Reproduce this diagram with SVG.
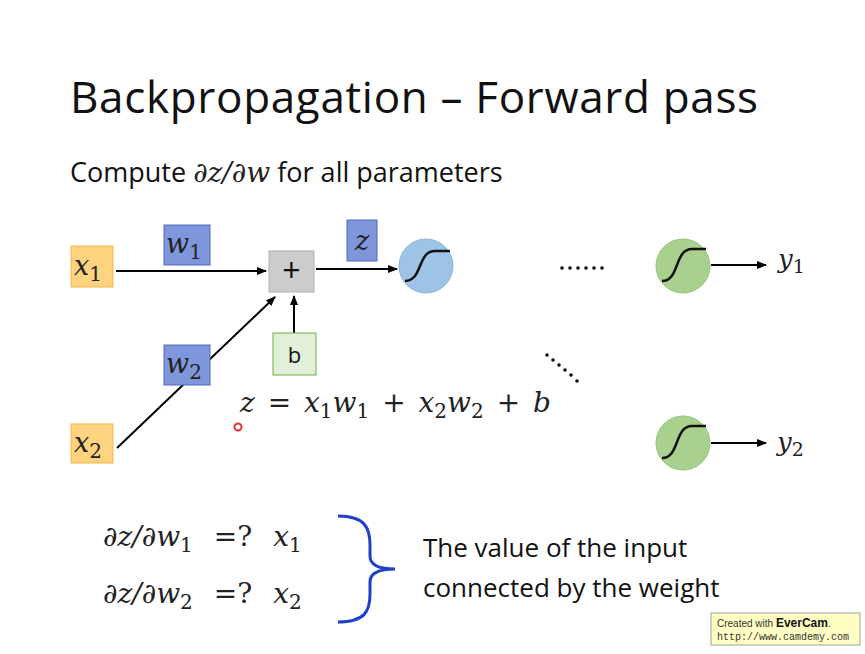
<svg xmlns="http://www.w3.org/2000/svg" width="865" height="654" viewBox="0 0 865 654">
<defs>
<marker id="ah" markerWidth="10" markerHeight="8" refX="9" refY="4" orient="auto" markerUnits="userSpaceOnUse"><path d="M0,0 L10,4 L0,8 Z" fill="#000"/></marker>
<style>
.s{font-family:"Open Sans","Liberation Sans",sans-serif;fill:#111}
.m{font-family:"DejaVu Serif","Liberation Serif",serif;font-style:italic;fill:#222}
.n{font-style:normal}
.c{stroke:#000;stroke-width:2;fill:none}
.sig{stroke:#111;stroke-width:2.5;fill:none}
</style>
</defs>
<rect width="865" height="654" fill="#fff"/>
<text class="s" x="70" y="113" font-size="44" textLength="688">Backpropagation – Forward pass</text>
<text class="s" x="70" y="182" font-size="27">Compute <tspan class="m" font-size="28">∂z/∂w</tspan> for all parameters</text>
<g id="connectors">
<line class="c" x1="116" y1="271" x2="266" y2="271" marker-end="url(#ah)"/>
<line class="c" x1="316" y1="269" x2="397" y2="269" marker-end="url(#ah)"/>
<line class="c" x1="294" y1="333" x2="294" y2="296" marker-end="url(#ah)"/>
<line class="c" x1="117" y1="448" x2="275" y2="297" marker-end="url(#ah)"/>
<line class="c" x1="711" y1="265" x2="766" y2="265" marker-end="url(#ah)"/>
<line class="c" x1="711" y1="443" x2="766" y2="443" marker-end="url(#ah)"/>
</g>
<g id="x1"><rect x="71" y="246" width="42" height="41" fill="#FFD37F" stroke="#F2B64A"/><text class="m" x="74" y="275" font-size="27">x<tspan class="n" font-size="20" dy="6">1</tspan></text></g>
<g id="w1"><rect x="164" y="225" width="46" height="40" fill="#7F96DA" stroke="#4F6BC0"/><text class="m" x="166" y="253" font-size="27">w<tspan class="n" font-size="20" dy="6">1</tspan></text></g>
<g id="plus"><rect x="269" y="251" width="45" height="41" fill="#CCCCCC" stroke="#B0B0B0"/><text class="s" x="291.5" y="282" font-size="32" text-anchor="middle">+</text></g>
<g id="z"><rect x="347" y="220" width="30" height="41" fill="#7F96DA" stroke="#4F6BC0"/><text class="m" x="362" y="250" font-size="27" text-anchor="middle">z</text></g>
<g id="sig1"><circle cx="426" cy="266" r="27" fill="#9DC3E6" stroke="#8AB3DA"/><path class="sig" d="M405,281 C423,281 417,251 435,251 L450,251"/></g>
<g id="b"><rect x="273" y="333" width="43" height="42" fill="#E2F0D9" stroke="#70AD47"/><text class="s" x="294.5" y="363" font-size="22" text-anchor="middle">b</text></g>
<g id="x2"><rect x="71" y="424" width="42" height="39" fill="#FFD37F" stroke="#F2B64A"/><text class="m" x="74" y="452" font-size="27">x<tspan class="n" font-size="20" dy="6">2</tspan></text></g>
<g id="w2"><rect x="164" y="345" width="46" height="40" fill="#7F96DA" stroke="#4F6BC0"/><text class="m" x="166" y="373" font-size="27">w<tspan class="n" font-size="20" dy="6">2</tspan></text></g>
<text class="m" x="240" y="412" font-size="28" word-spacing="4">z <tspan class="n">=</tspan> x<tspan class="n" font-size="20" dy="6">1</tspan><tspan dy="-6">w</tspan><tspan class="n" font-size="20" dy="6">1</tspan><tspan class="n" dy="-6"> + </tspan>x<tspan class="n" font-size="20" dy="6">2</tspan><tspan dy="-6">w</tspan><tspan class="n" font-size="20" dy="6">2</tspan><tspan class="n" dy="-6"> + </tspan>b</text>
<circle cx="238" cy="427" r="3.5" fill="none" stroke="#E03030" stroke-width="2"/>
<g fill="#111">
<circle cx="562" cy="268" r="1.8"/><circle cx="570" cy="268" r="1.8"/><circle cx="578" cy="268" r="1.8"/><circle cx="586" cy="268" r="1.8"/><circle cx="594" cy="268" r="1.8"/><circle cx="602" cy="268" r="1.8"/>
<circle cx="547" cy="355" r="1.8"/><circle cx="553" cy="360" r="1.8"/><circle cx="559" cy="365" r="1.8"/><circle cx="565" cy="370" r="1.8"/><circle cx="571" cy="375" r="1.8"/><circle cx="577" cy="381" r="1.8"/>
</g>
<g id="sig2"><circle cx="683" cy="266" r="27" fill="#A9D18E" stroke="#93C47A"/><path class="sig" d="M662,281 C680,281 674,249 692,249 L706,249"/></g>
<g id="sig3"><circle cx="683" cy="443" r="27" fill="#A9D18E" stroke="#93C47A"/><path class="sig" d="M662,458 C680,458 674,426 692,426 L706,426"/></g>
<text class="m" x="778" y="268" font-size="26">y<tspan class="n" font-size="19" dy="5">1</tspan></text>
<text class="m" x="777" y="451" font-size="26">y<tspan class="n" font-size="19" dy="5">2</tspan></text>
<text class="m" x="103" y="546" font-size="28" word-spacing="12">∂z/∂w<tspan class="n" font-size="20" dy="6">1</tspan><tspan class="n" dy="-6"> =? </tspan>x<tspan class="n" font-size="20" dy="6">1</tspan></text>
<text class="m" x="103" y="603" font-size="28" word-spacing="12">∂z/∂w<tspan class="n" font-size="20" dy="6">2</tspan><tspan class="n" dy="-6"> =? </tspan>x<tspan class="n" font-size="20" dy="6">2</tspan></text>
<path d="M338,516 C365,516 370,528 370,545 L370,556 C370,565 378,569 395,569 C378,569 370,573 370,582 L370,594 C370,611 365,622 338,622" fill="none" stroke="#1F3FCC" stroke-width="3"/>
<text class="s" x="423" y="557" font-size="26">The value of the input</text>
<text class="s" x="423" y="597" font-size="26">connected by the weight</text>
<rect x="711" y="613" width="149" height="32" fill="#FFFFC4" stroke="#A0A0A0"/>
<text x="717" y="627" font-family="Liberation Sans,sans-serif" font-size="10" fill="#333">Created with <tspan font-weight="bold" font-size="12" fill="#111">EverCam</tspan>.</text>
<text x="717" y="640" font-family="Liberation Mono,monospace" font-size="10" fill="#333">http://www.camdemy.com</text>
</svg>
